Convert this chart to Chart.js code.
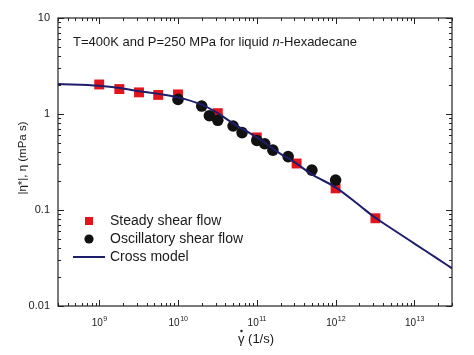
<!DOCTYPE html>
<html><head><meta charset="utf-8">
<script src="https://cdn.jsdelivr.net/npm/chart.js@4"></script>
<style>html,body{margin:0;padding:0;background:#fff}#wrap{width:474px;height:355px}</style>
</head><body><div id="wrap"><canvas id="c" width="474" height="355"></canvas></div>
<script>
// ---- data ----
const steadyX = [1e9, 1.8e9, 3.2e9, 5.6e9, 1e10, 3.2e10, 1e11, 3.2e11, 1e12, 3.2e12];
const steadyY = [2.03, 1.82, 1.68, 1.58, 1.60, 1.02, 0.57, 0.305, 0.168, 0.082];
const oscX = [1e10, 2e10, 2.5e10, 3.2e10, 5e10, 6.5e10, 1e11, 1.26e11, 1.6e11, 2.5e11, 5e11, 1e12];
const oscY = [1.42, 1.21, 0.96, 0.86, 0.75, 0.64, 0.53, 0.49, 0.42, 0.36, 0.26, 0.205];
const crossX = [3e8, 1e9, 2e9, 3e9, 5.6e9, 1e10, 2e10, 3e10, 5e10, 1e11, 2e11, 3e11, 5e11, 1e12, 2e12, 3e12, 5e12, 1e13, 2e13, 3e13];
const crossY = [2.05, 1.97, 1.84, 1.74, 1.62, 1.49, 1.25, 1.05, 0.80, 0.57, 0.385, 0.315, 0.235, 0.172, 0.112, 0.086, 0.065, 0.0447, 0.0308, 0.0247];
const xTickValues = [1e9, 1e10, 1e11, 1e12, 1e13];
const xTickExp = ['9', '10', '11', '12', '13'];
const yTickValues = [0.01, 0.1, 1, 10];
const yTickLabels = ['0.01', '0.1', '1', '10'];
const xRange = [3e8, 3e13];
const yRange = [0.01, 10];
const seriesNames = ['Steady shear flow', 'Oscillatory shear flow', 'Cross model'];
const annotationText = ['T=400K and P=250 MPa for liquid ', 'n', '-Hexadecane'];

const pts = (xs, ys) => xs.map((x, i) => ({x: x, y: ys[i]}));
const FONT = '"Liberation Sans", Arial, sans-serif';
const TXT = '#1a1a1a';

function minorValues(min, max) {
  const out = [];
  for (let e = Math.floor(Math.log10(min)); e <= Math.ceil(Math.log10(max)); e++) {
    for (let m = 1; m <= 9; m++) {
      const v = m * Math.pow(10, e);
      if (v >= min * 0.999 && v <= max * 1.001) out.push({v: v, major: m === 1});
    }
  }
  return out;
}

const decor = {
  id: 'decor',
  afterDraw(chart) {
    const ctx = chart.ctx, a = chart.chartArea, xs = chart.scales.x, ys = chart.scales.y;
    ctx.save();
    // frame
    ctx.strokeStyle = '#222'; ctx.lineWidth = 1.2;
    ctx.strokeRect(a.left, a.top, a.right - a.left, a.bottom - a.top);
    // inward tick marks on all sides
    ctx.lineWidth = 1;
    minorValues(xRange[0], xRange[1]).forEach(t => {
      const px = Math.round(xs.getPixelForValue(t.v)) + 0.5, L = t.major ? 6 : 3;
      ctx.beginPath();
      ctx.moveTo(px, a.bottom); ctx.lineTo(px, a.bottom - L);
      ctx.moveTo(px, a.top); ctx.lineTo(px, a.top + L);
      ctx.stroke();
    });
    minorValues(yRange[0], yRange[1]).forEach(t => {
      const py = Math.round(ys.getPixelForValue(t.v)) + 0.5, L = t.major ? 6 : 3;
      ctx.beginPath();
      ctx.moveTo(a.left, py); ctx.lineTo(a.left + L, py);
      ctx.moveTo(a.right, py); ctx.lineTo(a.right - L, py);
      ctx.stroke();
    });
    // x tick labels with superscripts
    ctx.fillStyle = TXT;
    ctx.textBaseline = 'alphabetic';
    xTickValues.forEach((v, i) => {
      const px = xs.getPixelForValue(v);
      ctx.font = '10px ' + FONT;
      const w1 = ctx.measureText('10').width;
      ctx.font = '7px ' + FONT;
      const w2 = ctx.measureText(xTickExp[i]).width;
      const x0 = px - (w1 + w2) / 2;
      ctx.font = '10px ' + FONT; ctx.textAlign = 'left';
      ctx.fillText('10', x0, a.bottom + 20);
      ctx.font = '7px ' + FONT;
      ctx.fillText(xTickExp[i], x0 + w1 + 0.5, a.bottom + 15);
    });
    // x title: gamma-dot (1/s)
    ctx.font = '13px ' + FONT;
    const g = 'γ', rest = ' (1/s)';
    const wg = ctx.measureText(g).width, wr = ctx.measureText(rest).width;
    const cx = (a.left + a.right) / 2 + 1;
    const gx = cx - (wg + wr) / 2, by = a.bottom + 37;
    ctx.textAlign = 'left';
    ctx.fillText(g, gx, by);
    ctx.fillText(rest, gx + wg, by);
    ctx.beginPath(); ctx.arc(gx + wg / 2 + 0.3, by - 12, 1.2, 0, Math.PI * 2); ctx.fill();
    // y title
    ctx.save();
    ctx.translate(23, (a.top + a.bottom) / 2 - 4);
    ctx.rotate(-Math.PI / 2);
    ctx.font = '11.5px ' + FONT; ctx.textAlign = 'center'; ctx.textBaseline = 'middle';
    ctx.fillText('|η*|, η (mPa s)', 0, 0);
    ctx.restore();
    // annotation
    ctx.font = '13px ' + FONT; ctx.textAlign = 'left'; ctx.textBaseline = 'alphabetic';
    let tx = a.left + 15; const ty = a.top + 28;
    ctx.fillText(annotationText[0], tx, ty); tx += ctx.measureText(annotationText[0]).width;
    ctx.font = 'italic 13px ' + FONT;
    ctx.fillText(annotationText[1], tx, ty); tx += ctx.measureText(annotationText[1]).width;
    ctx.font = '13px ' + FONT;
    ctx.fillText(annotationText[2], tx, ty);
    // legend
    const ds = chart.data.datasets;
    const lx = a.left + 31, ly0 = a.top + 203, dy = 18, textX = a.left + 52;
    ctx.font = '14px ' + FONT; ctx.textBaseline = 'middle';
    ds.forEach((d, i) => {
      const y = ly0 + i * dy;
      if (i === 0) { ctx.fillStyle = d.backgroundColor; ctx.fillRect(lx - 4, y - 4, 8, 8); }
      else if (i === 1) { ctx.fillStyle = d.backgroundColor; ctx.beginPath(); ctx.arc(lx, y, 4.6, 0, Math.PI * 2); ctx.fill(); }
      else { ctx.strokeStyle = d.borderColor; ctx.lineWidth = 2; ctx.beginPath(); ctx.moveTo(a.left + 15, y); ctx.lineTo(a.left + 47, y); ctx.stroke(); }
      ctx.fillStyle = TXT;
      ctx.fillText(d.label, textX, y);
    });
    ctx.restore();
  }
};

new Chart(document.getElementById('c'), {
  type: 'scatter',
  data: {
    datasets: [
      {label: seriesNames[0], data: pts(steadyX, steadyY), pointStyle: 'rect', pointRadius: 7,
       backgroundColor: '#e3141c', borderColor: '#e3141c', borderWidth: 0, order: 3},
      {label: seriesNames[1], data: pts(oscX, oscY), pointStyle: 'circle', pointRadius: 5.8,
       backgroundColor: '#111111', borderColor: '#111111', borderWidth: 0, order: 2},
      {label: seriesNames[2], data: pts(crossX, crossY), type: 'line', showLine: true, pointRadius: 0,
       borderColor: '#1d1d6c', borderWidth: 2, fill: false, cubicInterpolationMode: 'monotone', order: 1}
    ]
  },
  options: {
    responsive: false, animation: false,
    layout: {padding: {top: 18, right: 22, left: 0, bottom: 0}},
    plugins: {legend: {display: false}, tooltip: {enabled: false}},
    scales: {
      x: {type: 'logarithmic', position: 'bottom', min: xRange[0], max: xRange[1],
          grid: {display: false, drawTicks: false}, border: {display: false},
          ticks: {display: false},
          afterFit: s => { s.height = 49; }},
      y: {type: 'logarithmic', position: 'left', min: yRange[0], max: yRange[1],
          grid: {display: false, drawTicks: false}, border: {display: false},
          afterBuildTicks: s => { s.ticks = yTickValues.map(v => ({value: v})); },
          ticks: {padding: 8, color: TXT, font: {family: FONT, size: 11},
                  callback: v => { const i = yTickValues.findIndex(t => Math.abs(t - v) / t < 1e-6); return i >= 0 ? yTickLabels[i] : ''; }},
          afterFit: s => { s.width = 58; }}
    }
  },
  plugins: [decor]
});
</script></body></html>
